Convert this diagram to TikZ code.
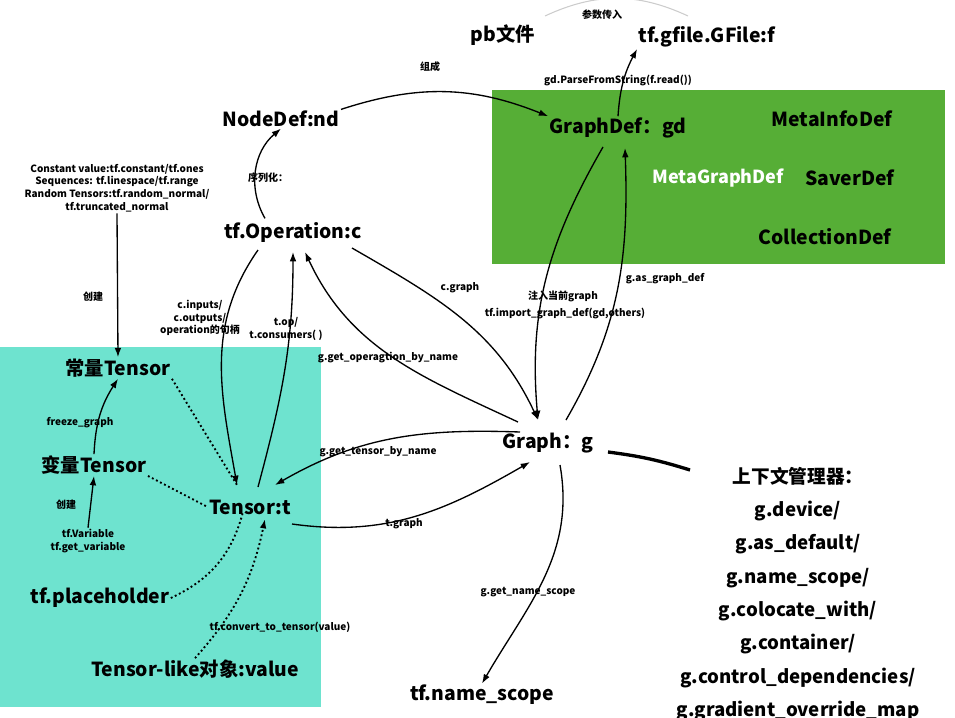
\documentclass[tikz,border=0pt]{standalone}
\usepackage{fontspec}
\setmainfont{Noto Sans CJK SC}
\usetikzlibrary{arrows.meta}
\definecolor{leaf}{HTML}{56AE36}
\definecolor{aqua}{HTML}{6EE3CF}
\begin{document}
\begin{tikzpicture}[
x=0.75pt,y=-0.75pt,
big/.style={
  font=\fontsize{14.5}{17}\selectfont\bfseries,
  inner sep=1pt
},
lbl/.style={
  font=\fontsize{7.5}{9.5}\selectfont\bfseries,
  inner sep=1pt,
  align=center
},
edge/.style={
  -{Latex[length=7pt,width=5pt]},
  line width=1pt
},
dots/.style={
  dotted,
  line width=1.4pt
}
]
\useasboundingbox (0,0) rectangle (955,717);
\fill[leaf] (492,90) rectangle (945,264);
\fill[aqua] (0,347) rectangle (321,707);

\node[big] (pb) at (503,35) {pb文件};
\node[big] (gfile) at (707,37) {tf.gfile.GFile:f};
\node[big] (nd) at (281,119) {NodeDef:nd};
\node[big] (gd) at (618,128) {GraphDef：gd};
\node[big] (mi) at (832,119) {MetaInfoDef};
\node[big,text=white,font=\fontsize{13.5}{16}\selectfont\bfseries] (mg) at (718,178) {MetaGraphDef};
\node[big] (sd) at (850,178) {SaverDef};
\node[big] (cd) at (825,237) {CollectionDef};
\node[lbl] (const) at (117,188) {Constant value:tf.constant/tf.ones\\Sequences: tf.linespace/tf.range\\Random Tensors:tf.random\_normal/\\tf.truncated\_normal};
\node[big] (op) at (293,232) {tf.Operation:c};
\node[big] (ct) at (118,368) {常量Tensor};
\node[big] (vt) at (94,465) {变量Tensor};
\node[big] (t) at (250,507) {Tensor:t};
\node[big] (ph) at (100,598) {tf.placeholder};
\node[big] (tl) at (195,669) {Tensor-like对象:value};
\node[big] (g) at (548,443) {Graph：g};
\node[big] (ns) at (482,695) {tf.name\_scope};
\node[lbl] (var) at (88,541) {tf.Variable\\tf.get\_variable};
\node[big,align=center,font=\fontsize{14}{25}\selectfont\bfseries] (ctx) at (798,594)
  {上下文管理器：\\g.device/\\g.as\_default/\\g.name\_scope/\\g.colocate\_with/\\g.container/\\g.control\_dependencies/\\g.gradient\_override\_map};

% end points on the node borders
\coordinate (pa) at (545,16);
\coordinate (pz) at (688,16);
\coordinate (opA) at (258,250);
\coordinate (opB) at (293,252);
\coordinate (opC) at (305,252);
\coordinate (opD) at (352,248);
\coordinate (tA) at (237,485);
\coordinate (tB) at (258,487);
\coordinate (tC) at (275,485);
\coordinate (tD) at (292,524);
\coordinate (tE) at (265,519);
\coordinate (tF) at (243,512);
\coordinate (gA) at (518,422);
\coordinate (gB) at (538,420);
\coordinate (gC) at (566,420);
\coordinate (gD) at (520,432);
\coordinate (gE) at (530,462);
\coordinate (gF) at (560,465);
\coordinate (gG) at (608,452);
\coordinate (gdA) at (603,147);
\coordinate (gdB) at (625,148);
\coordinate (scrib) at (690,470);

% top
\draw[gray!40,line width=0.8pt] (pa) to[bend left=25] (pz);
\node[lbl,fill=white] at (602,15) {参数传入};
\draw[edge] (nd.north east) to[bend left=20] (gd.north west);
\node[lbl] at (430,67) {组成};
\draw[edge] (gd.north) to[bend left=12] (gfile.south west);
\node[lbl] at (618,80) {gd.ParseFromString(f.read())};
\draw[edge] (op.north) ++(-28,-2) coordinate (opN) (opN) to[bend left=40] (nd.south);
\node[lbl] at (268,178) {序列化：};
\draw[edge] (const.south) -- (ct.north);
\node[lbl] at (93,297) {创建};

% operation / tensor / graph
\draw[edge] (opA) to[out=235,in=100] (tA);
\node[lbl] at (200,318) {c.inputs/\\c.outputs/\\operation的句柄};
\draw[edge] (tB) to[out=75,in=270] (opB);
\node[lbl] at (286,329) {t.op/\\t.consumers( )};
\draw[edge] (gA) to[out=155,in=295] (opC);
\node[lbl] at (388,358) {g.get\_operagtion\_by\_name};
\draw[edge] (opD) to[out=-30,in=115] (gB);
\node[lbl] at (460,288) {c.graph};
\draw[edge] (gD) to[out=178,in=30] (tC);
\node[lbl] at (378,452) {g.get\_tensor\_by\_name};
\draw[edge] (tD) to[out=-8,in=210] (gE);
\node[lbl] at (404,524) {t.graph};
\draw[edge] (gF) to[out=280,in=60] (ns.north);
\node[lbl] at (528,592) {g.get\_name\_scope};
\draw[line width=2.5pt] (gG) to[bend left=5] (scrib);

% graph / graphdef
\draw[edge] (gdA) to[out=240,in=95] (gB);
\node[lbl] at (563,296) {注入当前graph};
\node[lbl] at (565,313) {tf.import\_graph\_def(gd,others)};
\draw[edge] (gC) to[out=60,in=272] (gdB);
\node[lbl] at (665,279) {g.as\_graph\_def};

% tensors
\draw[edge] (vt.north) to[bend left=15] (ct.south);
\node[lbl] at (80,423) {freeze\_graph};
\draw[edge] (var.north) -- (vt.south);
\node[lbl] at (66,505) {创建};
\draw[dots] (ct.south east) -- (tA);
\draw[dots] (vt.south east) -- (t.west);
\draw[dots] (ph.east) to[bend right=25] (tF);
\draw[dots,-{Latex[length=7pt,width=5pt]}] (tl.north) to[bend right=15] (tE);
\node[lbl] at (280,627) {tf.convert\_to\_tensor(value)};
\end{tikzpicture}
\end{document}
